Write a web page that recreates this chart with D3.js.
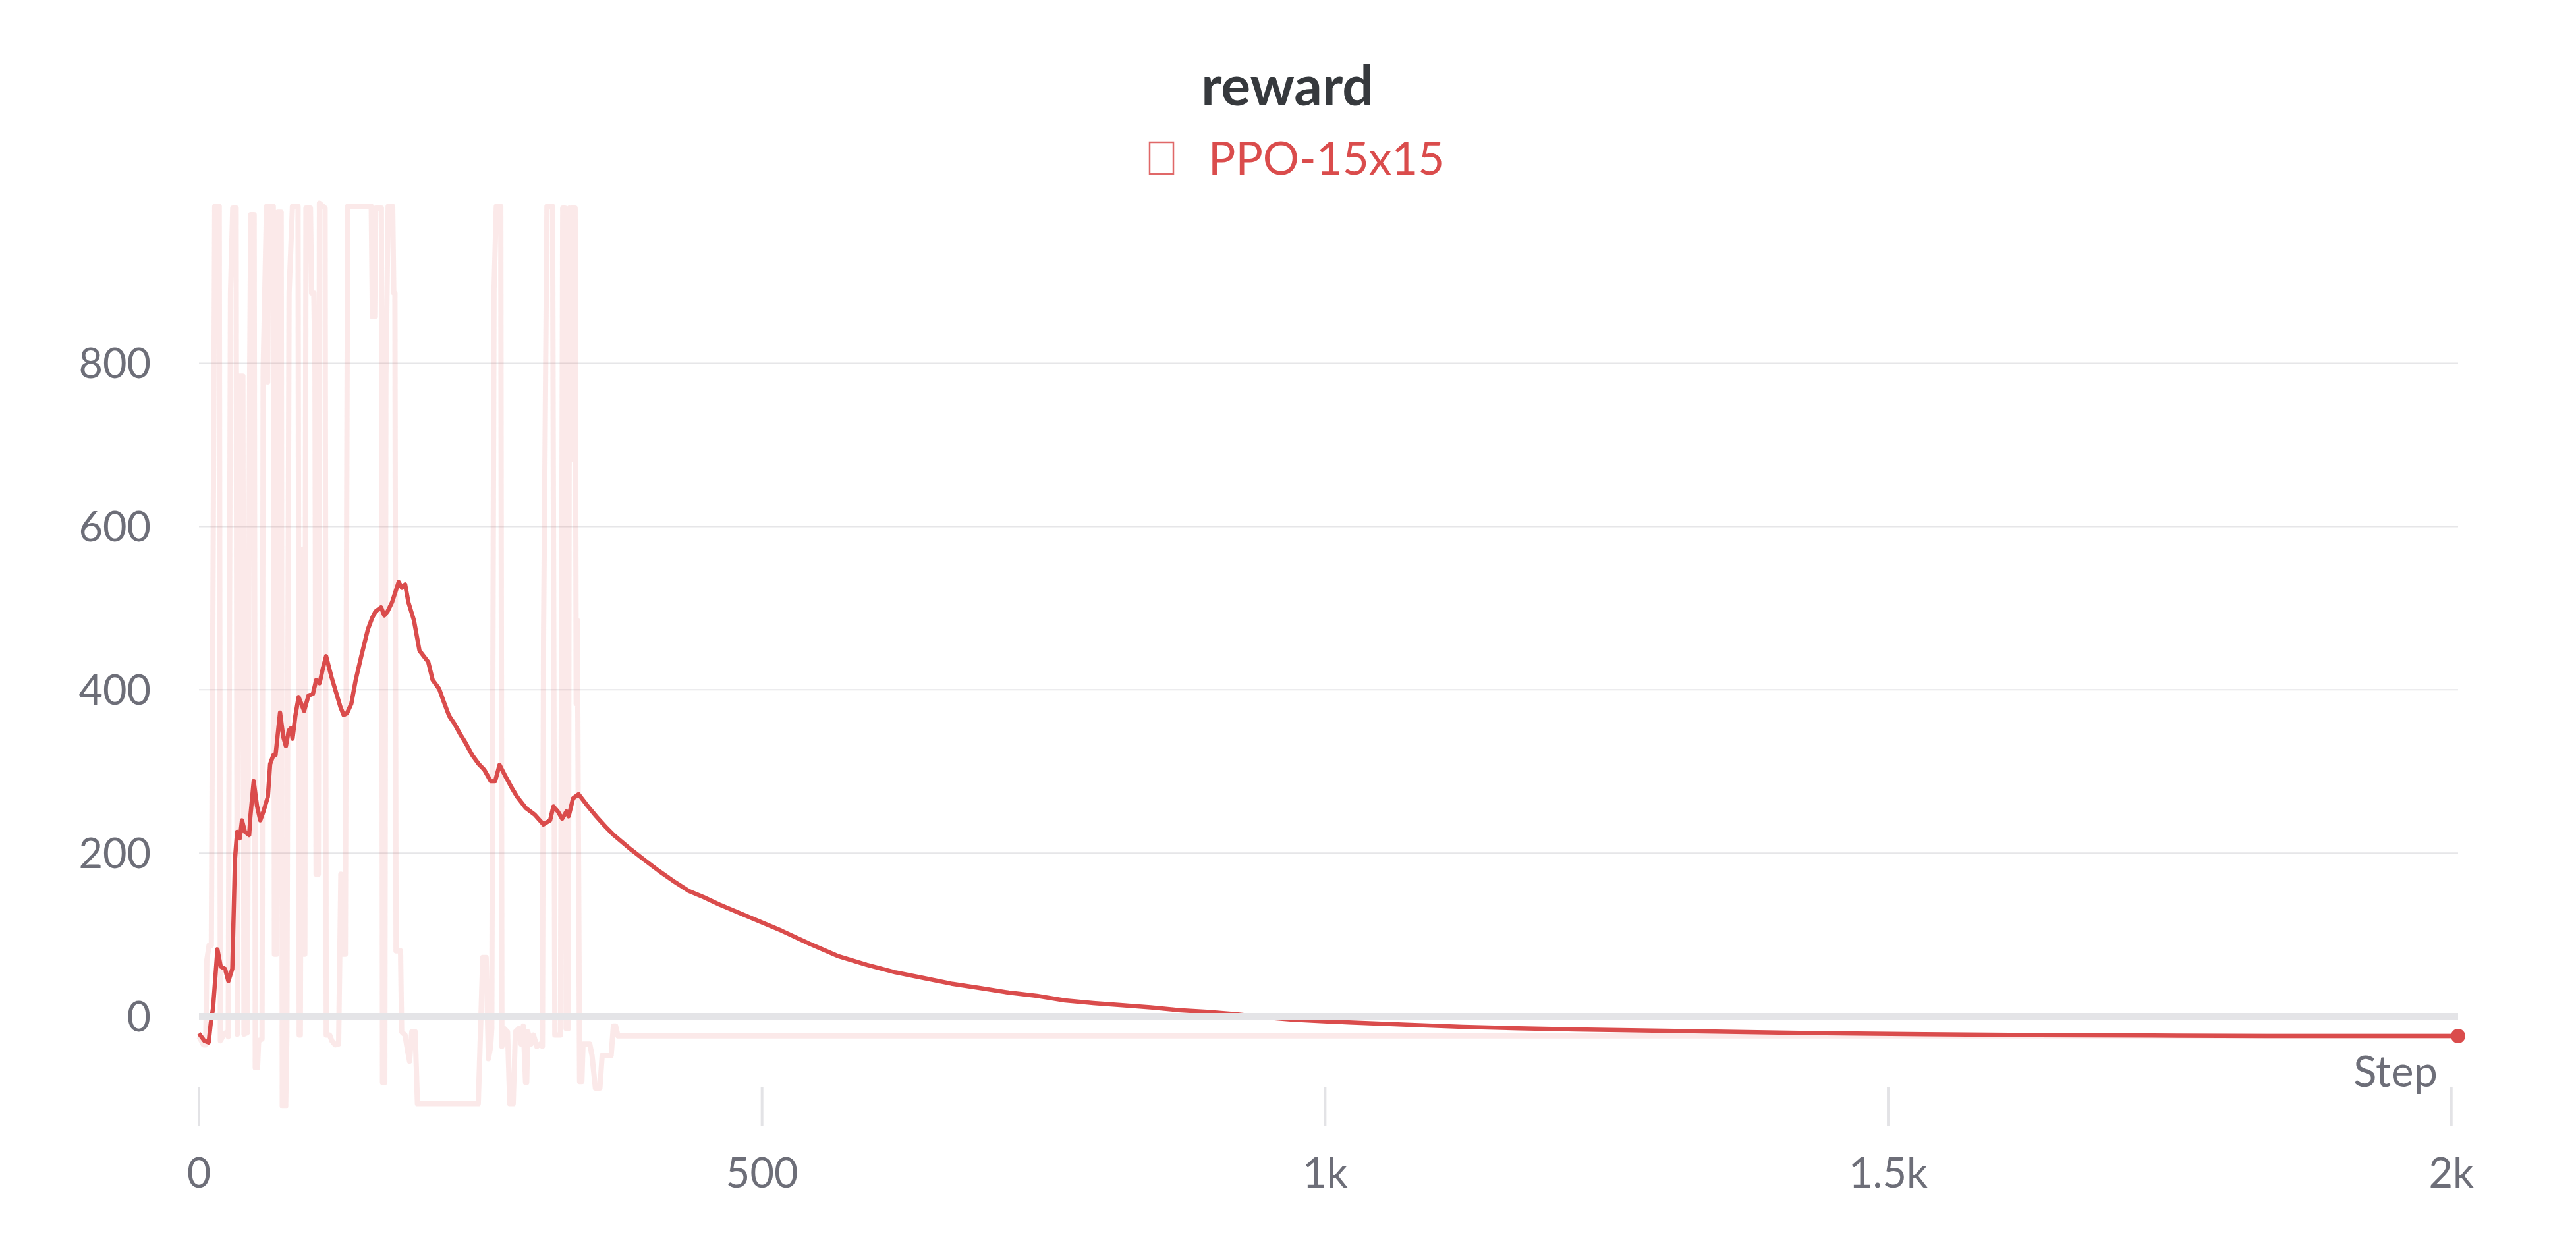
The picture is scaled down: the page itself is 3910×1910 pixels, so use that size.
<!DOCTYPE html>
<html>
<head>
<meta charset="utf-8">
<script src="https://cdn.jsdelivr.net/npm/d3@7/dist/d3.min.js"></script>
<style>
  html, body { margin: 0; padding: 0; background: #ffffff; }
  svg { display: block; }
</style>
</head>
<body>
<svg id="chart" width="3910" height="1910"></svg>
<script>
// ---------------- data ----------------
const chartTitle = "reward";
const seriesName = "PPO-15x15";

const rawSteps = [0,2,4,6,7,9,11,14,18,19,21,24,26,28,30,33,34,36,39,40,43,45,46,49,50,52,53,56,57,60,61,62,66,67,69,70,73,74,77,78,80,83,88,89,90,91,92,94,95,99,100,102,103,104,106,107,112,113,116,118,121,124,126,128,130,132,153,154,156,157,162,163,165,166,168,172,173,174,175,179,180,183,185,187,189,192,194,248,252,255,257,259,260,262,264,268,269,271,274,276,279,281,284,286,288,290,291,292,295,297,300,303,305,306,309,314,316,321,323,325,326,328,329,330,331,334,335,336,338,340,341,347,349,352,356,358,366,368,370,372,2006];
const rawValues = [-25,-30,-35,-35,69,87,87,992,992,-30,-25,-20,-25,886,990,990,-22,784,784,-22,-20,780,982,982,-63,-63,-30,-28,791,992,777,992,992,76,76,985,985,-110,-110,-23,886,992,992,-23,-23,572,76,76,990,990,886,886,791,174,174,996,990,-23,-23,-30,-35,-34,174,76,76,992,992,857,857,990,990,-81,-81,784,992,992,886,886,80,80,-19,-23,-40,-55,-19,-19,-107,-107,72,72,-52,-37,-15,890,992,992,-37,-15,-19,-107,-107,-19,-15,-34,-12,-81,-81,-19,-34,-23,-37,-34,-37,470,992,992,-23,-23,990,990,-15,-15,990,682,990,990,383,485,-80,-80,-34,-34,-48,-88,-88,-48,-48,-12,-12,-24,-24];

const smoothSteps = [0,4.7,8.6,10.5,12.5,16.4,19.3,23.2,26.1,29.6,32,33.9,36.3,38.2,40.8,44.6,45.6,48.6,51.5,54.4,57.3,61.2,63.2,66.1,68,72,74.9,77.2,79.7,81.7,83.1,85.6,88.5,93.4,97.3,101.2,104.1,107.1,110,112.9,117.8,121.7,125.6,128.5,131.4,135.3,139.2,144.1,150,153.8,156.8,161.7,164.6,167.5,171.4,177.3,180.2,183.1,186,190.9,195.8,199.7,203.6,207.5,213.3,217.2,222.1,227,231.8,236.7,242.6,248.4,253.3,259.1,263,266.9,271.8,277.7,282.5,290.3,298.1,305.9,311.8,314.7,318.6,322.5,326.4,328.3,332.2,337.1,344.9,352.7,360.5,368.3,376.1,383.9,396,409,422,435,448,462,487,517,542,567,593,618,643,668,694,719,744,769,794,820,845,870,895,920,946,971,996,1021,1072,1122,1172,1223,1328,1430,1532,1633,1735,1836,2006];
const smoothValues = [-21,-30,-32,-8,10,82,61,58,43,58,193,226,218,240,226,222,244,288,258,240,251,269,309,320,320,372,342,331,350,353,340,368,391,374,393,395,412,408,426,441,415,397,379,369,371,383,412,441,474,488,496,501,491,496,507,532,525,529,507,485,448,441,434,412,401,386,368,358,346,335,320,309,302,288,288,308,295,280,269,255,247,235,240,257,251,242,251,245,267,272,258,245,233,222,213,204,191,177.5,165,153.5,146,137,122.5,105,89,74,63,54,47,40,34.5,29,25,19.4,16.2,13.5,10.8,7.5,5.4,2.7,-1.3,-4,-5.9,-7.5,-10.2,-12.9,-14.8,-16.2,-18.3,-20.5,-22,-23.1,-23.7,-24.2,-24.2];

const yTicks = [0, 200, 400, 600, 800];
const xTicks = [0, 500, 1000, 1500, 2000];
const xTickLabels = ["0", "500", "1k", "1.5k", "2k"];
const xAxisTitle = "Step";

// ---------------- layout ----------------
const FONT = "Lato, 'Noto Sans', sans-serif";
const RED = "#da4c4c";
const TICK_COLOR = "#6d6e78";

const svg = d3.select("#chart");

const x = d3.scaleLinear().domain([0, 2006]).range([302, 3731]);
const y = d3.scaleLinear().domain([0, 800]).range([1543, 551.5]);

// grid lines (non-zero)
svg.append("g").selectAll("line")
  .data(yTicks.filter(d => d !== 0))
  .join("line")
  .attr("x1", x(0)).attr("x2", x(2006))
  .attr("y1", d => y(d)).attr("y2", d => y(d))
  .attr("stroke", "#e6e6e8").attr("stroke-width", 2);

// y tick labels
svg.append("g").selectAll("text")
  .data(yTicks)
  .join("text")
  .attr("x", 229).attr("y", d => y(d))
  .attr("dy", "0.36em")
  .attr("text-anchor", "end")
  .attr("font-family", FONT).attr("font-size", 63)
  .attr("fill", TICK_COLOR)
  .text(d => d);

// x tick marks and labels
const xt = svg.append("g");
xt.selectAll("line")
  .data(xTicks)
  .join("line")
  .attr("x1", d => x(d)).attr("x2", d => x(d))
  .attr("y1", 1650).attr("y2", 1710)
  .attr("stroke", "#e3e3e6").attr("stroke-width", 4);
xt.selectAll("text")
  .data(xTicks)
  .join("text")
  .attr("x", d => x(d)).attr("y", 1803)
  .attr("text-anchor", "middle")
  .attr("font-family", FONT).attr("font-size", 63)
  .attr("fill", TICK_COLOR)
  .text((d, i) => xTickLabels[i]);

// x axis title
svg.append("text")
  .attr("x", 3700).attr("y", 1650)
  .attr("text-anchor", "end")
  .attr("font-family", FONT).attr("font-size", 65)
  .attr("fill", TICK_COLOR)
  .text(xAxisTitle);

// raw series
const rawData = rawSteps.map((s, i) => [s, rawValues[i]]);
const smoothData = smoothSteps.map((s, i) => [s, smoothValues[i]]);
const line = d3.line().x(d => x(d[0])).y(d => y(d[1]));

svg.append("path")
  .datum(rawData)
  .attr("d", line)
  .attr("fill", "none")
  .attr("stroke", RED).attr("stroke-opacity", 0.12)
  .attr("stroke-width", 8)
  .attr("stroke-linejoin", "round");

svg.append("path")
  .datum(smoothData)
  .attr("d", line)
  .attr("fill", "none")
  .attr("stroke", RED)
  .attr("stroke-width", 6.5)
  .attr("stroke-linejoin", "round");

// zero line
svg.append("line")
  .attr("x1", x(0)).attr("x2", x(2006))
  .attr("y1", y(0)).attr("y2", y(0))
  .attr("stroke", "#e4e4e7").attr("stroke-width", 10);

// end dot
const last = smoothData[smoothData.length - 1];
svg.append("circle")
  .attr("cx", x(last[0])).attr("cy", y(last[1]))
  .attr("r", 11).attr("fill", RED);

// title
svg.append("text")
  .attr("x", 1954).attr("y", 160)
  .attr("text-anchor", "middle")
  .attr("font-family", FONT).attr("font-weight", 700).attr("font-size", 84)
  .attr("fill", "#36393d")
  .text(chartTitle);

// legend
svg.append("rect")
  .attr("x", 1745).attr("y", 216).attr("width", 36).attr("height", 48)
  .attr("fill", "none").attr("stroke", "#e06868").attr("stroke-width", 2.5);
svg.append("text")
  .attr("x", 1834).attr("y", 265)
  .attr("font-family", FONT).attr("font-size", 69)
  .attr("fill", RED)
  .text(seriesName);
</script>
</body>
</html>
